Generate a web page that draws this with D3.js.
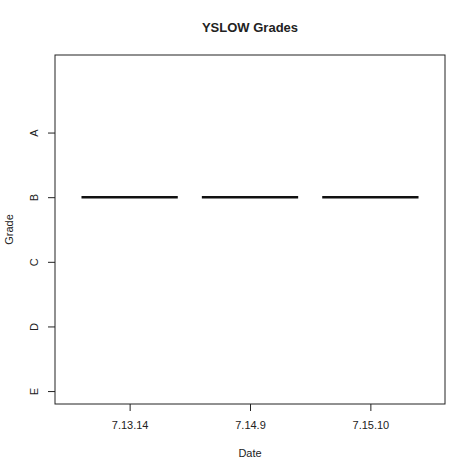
<!DOCTYPE html>
<html>
<head>
<meta charset="utf-8">
<script src="https://cdn.jsdelivr.net/npm/d3@7"></script>
<style>
  body { margin: 0; background: #fff; }
  text { font-family: "Liberation Sans", Arial, sans-serif; fill: #222; }
</style>
</head>
<body>
<div id="chart"></div>
<script>
// Données
const dates = ["7.13.14", "7.14.9", "7.15.10"]
const gradeLabels = ["E", "D", "C", "B", "A"]
const gradesByDate = [
    ["B", "B", "B", "B"],
    ["B", "B", "B", "B"],
    ["B", "B", "B", "B"]
]

const width = 474
const height = 474
const margin = {top: 55, right: 29, bottom: 70, left: 55}

const svg = d3.select("#chart")
              .append("svg")
              .attr("width", width)
              .attr("height", height)

// Échelles (comme R: xlim 0.5..n+0.5 et ylim 1..6, étendues de 4%)
const x = d3.scaleLinear()
            .domain([0.38, dates.length + 0.62])
            .range([margin.left, width - margin.right])

const y = d3.scaleLinear()
            .domain([0.8, 6.2])
            .range([height - margin.bottom, margin.top])

const gradeNum = g => gradeLabels.indexOf(g) + 1

// Cadre
svg.append("rect")
   .attr("x", margin.left)
   .attr("y", margin.top)
   .attr("width", width - margin.left - margin.right)
   .attr("height", height - margin.top - margin.bottom)
   .attr("fill", "none")
   .attr("stroke", "#222")
   .attr("stroke-width", 1)

// Axe X
const xAxis = svg.append("g")
                 .attr("transform", `translate(0, ${height - margin.bottom})`)
                 .call(d3.axisBottom(x)
                         .tickValues(d3.range(1, dates.length + 1))
                         .tickFormat(i => dates[i - 1])
                         .tickSize(7)
                         .tickPadding(10))
xAxis.select(".domain").remove()
xAxis.selectAll("line").attr("stroke", "#222")
xAxis.selectAll("text")
     .attr("font-size", 11)
     .attr("fill", "#222")
     .attr("font-family", "Liberation Sans, Arial, sans-serif")

// Axe Y
const yAxis = svg.append("g")
                 .attr("transform", `translate(${margin.left}, 0)`)
                 .call(d3.axisLeft(y)
                         .tickValues(d3.range(1, gradeLabels.length + 1))
                         .tickFormat(i => gradeLabels[i - 1])
                         .tickSize(7))
yAxis.select(".domain").remove()
yAxis.selectAll("line").attr("stroke", "#222")
yAxis.selectAll("text")
     .attr("font-size", 11)
     .attr("fill", "#222")
     .attr("font-family", "Liberation Sans, Arial, sans-serif")
     .attr("text-anchor", "middle")
     .attr("x", 0)
     .attr("dy", 0)
     .attr("transform", "translate(-17, 0) rotate(-90)")

// Boîtes (toutes dégénérées : seule la médiane reste)
const boxW = 0.8
gradesByDate.forEach((grades, i) => {
    const vals = grades.map(gradeNum).sort(d3.ascending)
    const q1 = d3.quantile(vals, 0.25)
    const med = d3.quantile(vals, 0.5)
    const q3 = d3.quantile(vals, 0.75)
    const cx = i + 1
    svg.append("rect")
       .attr("x", x(cx - boxW / 2))
       .attr("y", y(q3))
       .attr("width", x(cx + boxW / 2) - x(cx - boxW / 2))
       .attr("height", y(q1) - y(q3))
       .attr("fill", "none")
       .attr("stroke", "#111")
    svg.append("line")
       .attr("x1", x(cx - boxW / 2))
       .attr("x2", x(cx + boxW / 2))
       .attr("y1", y(med))
       .attr("y2", y(med))
       .attr("stroke", "#111")
       .attr("stroke-width", 2.5)
})

// Titre et libellés
svg.append("text")
   .attr("x", width / 2 + 13)
   .attr("y", 32)
   .attr("text-anchor", "middle")
   .attr("font-size", 13)
   .attr("font-weight", "bold")
   .text("YSLOW Grades")

svg.append("text")
   .attr("x", (margin.left + width - margin.right) / 2)
   .attr("y", 457)
   .attr("text-anchor", "middle")
   .attr("font-size", 11)
   .text("Date")

svg.append("text")
   .attr("transform", `translate(13, ${(margin.top + height - margin.bottom) / 2}) rotate(-90)`)
   .attr("text-anchor", "middle")
   .attr("font-size", 11)
   .text("Grade")
</script>
</body>
</html>
